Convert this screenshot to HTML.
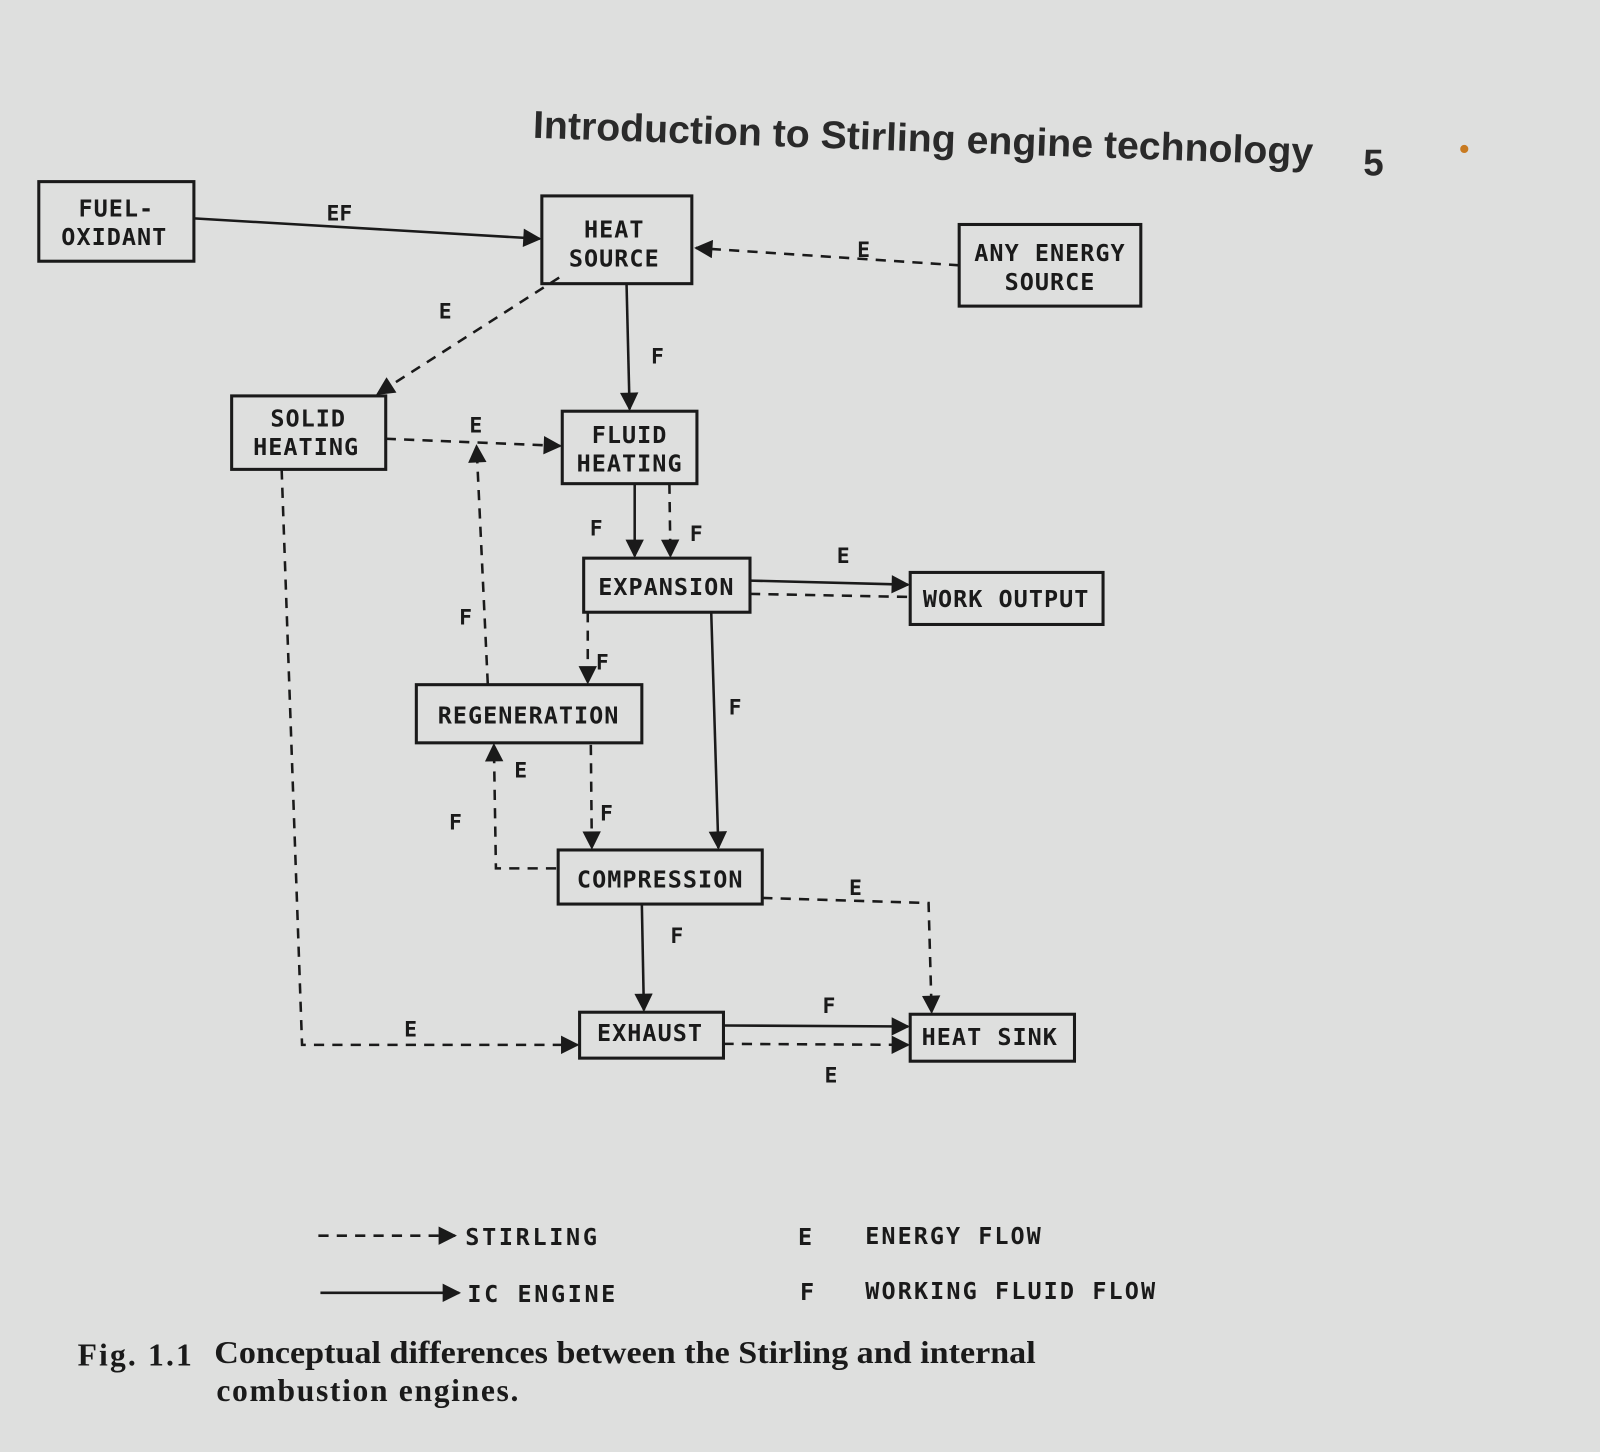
<!DOCTYPE html>
<html><head><style>
html,body{margin:0;padding:0;background:#dedfde;}
svg{display:block;}
.b{fill:none;stroke:#1a1a1a;stroke-width:3;}
.s{fill:none;stroke:#1a1a1a;stroke-width:2.5;}
.d{fill:none;stroke:#1a1a1a;stroke-width:2.5;stroke-dasharray:10 8;}
.t{font-family:"DejaVu Sans Mono","Liberation Mono",monospace;font-weight:bold;font-size:23px;fill:#1a1a1a;letter-spacing:1px;}
.l{font-family:"DejaVu Sans Mono","Liberation Mono",monospace;font-weight:bold;font-size:21px;fill:#1a1a1a;}
.c{font-family:"Liberation Serif",serif;font-weight:bold;font-size:31px;fill:#1a1a1a;}
</style></head><body>
<svg width="1600" height="1452" viewBox="0 0 1568 1423" xmlns="http://www.w3.org/2000/svg">
<defs><marker id="A" viewBox="0 0 10 10" refX="9" refY="5" markerWidth="22" markerHeight="18" markerUnits="userSpaceOnUse" orient="auto"><path d="M0,0 L10,5 L0,10z" fill="#1a1a1a"/></marker></defs>
<rect width="1568" height="1423" fill="#dedfde"/>
<text x="522" y="135" font-family="Liberation Sans,sans-serif" font-weight="bold" font-size="38" fill="#2a2a2a" textLength="765" lengthAdjust="spacingAndGlyphs" transform="rotate(2 522 135)">Introduction to Stirling engine technology</text>
<text x="1336" y="172" font-family="Liberation Sans,sans-serif" font-weight="bold" font-size="36" fill="#2a2a2a">5</text>
<circle cx="1435" cy="146" r="4" fill="#c87a20"/>
<!-- boxes -->
<rect class="b" x="38" y="178" width="152" height="78"/><text class="t" x="114" y="212" text-anchor="middle">FUEL-</text><text class="t" x="112" y="240" text-anchor="middle">OXIDANT</text>
<rect class="b" x="531" y="192" width="147" height="86"/><text class="t" x="602" y="233" text-anchor="middle">HEAT</text><text class="t" x="602" y="261" text-anchor="middle">SOURCE</text>
<rect class="b" x="940" y="220" width="178" height="80"/><text class="t" x="1029" y="256" text-anchor="middle">ANY ENERGY</text><text class="t" x="1029" y="284" text-anchor="middle">SOURCE</text>
<rect class="b" x="227" y="388" width="151" height="72"/><text class="t" x="302" y="418" text-anchor="middle">SOLID</text><text class="t" x="300" y="446" text-anchor="middle">HEATING</text>
<rect class="b" x="551" y="403" width="132" height="71"/><text class="t" x="617" y="434" text-anchor="middle">FLUID</text><text class="t" x="617" y="462" text-anchor="middle">HEATING</text>
<rect class="b" x="572" y="547" width="163" height="53"/><text class="t" x="653" y="583" text-anchor="middle">EXPANSION</text>
<rect class="b" x="892" y="561" width="189" height="51"/><text class="t" x="986" y="595" text-anchor="middle">WORK OUTPUT</text>
<rect class="b" x="408" y="671" width="221" height="57"/><text class="t" x="518" y="709" text-anchor="middle">REGENERATION</text>
<rect class="b" x="547" y="833" width="200" height="53"/><text class="t" x="647" y="870" text-anchor="middle">COMPRESSION</text>
<rect class="b" x="568" y="992" width="141" height="45"/><text class="t" x="637" y="1020" text-anchor="middle">EXHAUST</text>
<rect class="b" x="892" y="994" width="161" height="46"/><text class="t" x="970" y="1024" text-anchor="middle">HEAT SINK</text>
<!-- connectors -->
<line class="s" x1="190" y1="214" x2="529" y2="234" marker-end="url(#A)"/><text class="l" x="320" y="216">EF</text>
<line class="d" x1="940" y1="260" x2="682" y2="243" marker-end="url(#A)"/><text class="l" x="840" y="252">E</text>
<line class="s" x1="614" y1="278" x2="617" y2="401" marker-end="url(#A)"/><text class="l" x="638" y="356">F</text>
<line class="d" x1="548" y1="272" x2="370" y2="386" marker-end="url(#A)"/><text class="l" x="430" y="312">E</text>
<line class="d" x1="378" y1="430" x2="549" y2="437" marker-end="url(#A)"/><text class="l" x="460" y="424">E</text>
<line class="d" x1="478" y1="670" x2="467" y2="437" marker-end="url(#A)"/><text class="l" x="450" y="612">F</text>
<line class="s" x1="622" y1="474" x2="622" y2="545" marker-end="url(#A)"/><text class="l" x="578" y="525">F</text>
<line class="d" x1="656" y1="474" x2="657" y2="545" marker-end="url(#A)"/><text class="l" x="676" y="530">F</text>
<line class="s" x1="735" y1="569" x2="890" y2="573" marker-end="url(#A)"/>
<line class="d" x1="735" y1="582" x2="890" y2="585"/><text class="l" x="820" y="552">E</text>
<line class="d" x1="576" y1="600" x2="576" y2="669" marker-end="url(#A)"/><text class="l" x="584" y="656">F</text>
<line class="s" x1="697" y1="600" x2="704" y2="831" marker-end="url(#A)"/><text class="l" x="714" y="700">F</text>
<line class="d" x1="579" y1="730" x2="580" y2="831" marker-end="url(#A)"/><text class="l" x="588" y="804">F</text>
<polyline class="d" points="545,851 486,851 484,730" marker-end="url(#A)"/><text class="l" x="504" y="762">E</text><text class="l" x="440" y="813">F</text>
<line class="s" x1="629" y1="886" x2="631" y2="990" marker-end="url(#A)"/><text class="l" x="657" y="924">F</text>
<polyline class="d" points="747,880 910,885 913,992" marker-end="url(#A)"/><text class="l" x="832" y="877">E</text>
<polyline class="d" points="276,460 296,1024 566,1024" marker-end="url(#A)"/><text class="l" x="396" y="1016">E</text>
<line class="s" x1="709" y1="1005" x2="890" y2="1006" marker-end="url(#A)"/><text class="l" x="806" y="993">F</text>
<line class="d" x1="709" y1="1023" x2="890" y2="1024" marker-end="url(#A)"/><text class="l" x="808" y="1061">E</text>
<!-- legend -->
<line class="d" x1="312" y1="1211" x2="446" y2="1211" marker-end="url(#A)"/><text class="t" x="456" y="1220" textLength="130">STIRLING</text>
<line class="s" x1="314" y1="1267" x2="450" y2="1267" marker-end="url(#A)"/><text class="t" x="458" y="1276" textLength="146">IC ENGINE</text>
<text class="t" x="782" y="1220">E</text><text class="t" x="848" y="1219" textLength="173">ENERGY FLOW</text>
<text class="t" x="784" y="1274">F</text><text class="t" x="848" y="1273" textLength="285">WORKING FLUID FLOW</text>
<text class="c" x="76" y="1338" textLength="112">Fig. 1.1</text>
<text class="c" x="210" y="1336" textLength="805" lengthAdjust="spacingAndGlyphs">Conceptual differences between the Stirling and internal</text>
<text class="c" x="212" y="1373" textLength="296">combustion engines.</text>
</svg>
</body></html>
